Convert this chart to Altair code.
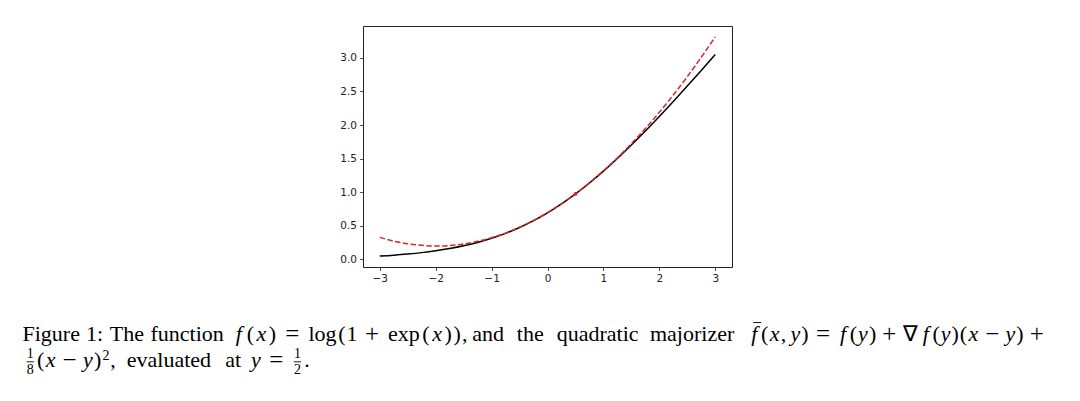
import altair as alt
import pandas as pd

# ---------------- data ----------------
x_grid = [-3.0, -2.75, -2.5, -2.25, -2.0, -1.75, -1.5, -1.25, -1.0, -0.75, -0.5, -0.25,
          0.0, 0.25, 0.5, 0.75, 1.0, 1.25, 1.5, 1.75, 2.0, 2.25, 2.5, 2.75, 3.0]
softplus = [0.049, 0.062, 0.079, 0.100, 0.127, 0.160, 0.201, 0.252, 0.313, 0.387, 0.474, 0.576,
            0.693, 0.826, 0.974, 1.137, 1.313, 1.502, 1.701, 1.910, 2.127, 2.350, 2.579, 2.812, 3.049]
majorizer = [0.327, 0.271, 0.232, 0.208, 0.199, 0.206, 0.229, 0.268, 0.322, 0.391, 0.477, 0.578,
             0.694, 0.826, 0.974, 1.138, 1.317, 1.511, 1.722, 1.948, 2.189, 2.446, 2.719, 3.008, 3.312]
tangent_x = [0.5]
tangent_y = [0.974]
x_ticks = [-3, -2, -1, 0, 1, 2, 3]
y_ticks = [0.0, 0.5, 1.0, 1.5, 2.0, 2.5, 3.0]

RED = "#d62728"
INK = "#222222"

df = pd.DataFrame({"x": x_grid, "f": softplus, "m": majorizer})
dot_df = pd.DataFrame({"x": tangent_x, "f": tangent_y})

xscale = alt.Scale(domain=[-3.3, 3.3], nice=False, zero=False)
yscale = alt.Scale(domain=[-0.114, 3.474], nice=False, zero=False)
axis_common = dict(grid=False, domain=False, ticks=True, tickSize=3.5, tickColor=INK,
                   tickWidth=0.8, labelFont="DejaVu Sans", labelFontSize=10.5,
                   labelColor=INK, labelPadding=3, title=None)
xaxis = alt.Axis(values=x_ticks, format="d", **axis_common)
yaxis = alt.Axis(values=y_ticks, format=".1f", **axis_common)

curve = alt.Chart(df).mark_line(color="black", strokeWidth=1.5, interpolate="monotone").encode(
    x=alt.X("x:Q", scale=xscale, axis=xaxis),
    y=alt.Y("f:Q", scale=yscale, axis=yaxis),
)
maj = alt.Chart(df).mark_line(color=RED, strokeWidth=1.5, strokeDash=[5.5, 2.4],
                              interpolate="monotone").encode(
    x=alt.X("x:Q", scale=xscale, axis=xaxis),
    y=alt.Y("m:Q", scale=yscale, axis=yaxis),
)
dot = alt.Chart(dot_df).mark_circle(color=RED, size=14, opacity=1).encode(
    x=alt.X("x:Q", scale=xscale, axis=xaxis),
    y=alt.Y("f:Q", scale=yscale, axis=yaxis),
)

# ---------------- caption (typeset like the LaTeX original) ----------------
CMR = {' ': 0.3333, 'F': 0.6528, 'T': 0.7222,
       'a': 0.5, 'b': 0.5556, 'c': 0.4444, 'd': 0.5556, 'e': 0.4444, 'f': 0.3056, 'g': 0.5,
       'h': 0.5556, 'i': 0.2778, 'j': 0.3056, 'k': 0.5278, 'l': 0.2778, 'm': 0.8333,
       'n': 0.5556, 'o': 0.5, 'p': 0.5556, 'q': 0.5278, 'r': 0.3917, 's': 0.3944,
       't': 0.3889, 'u': 0.5556, 'v': 0.5278, 'w': 0.7222, 'x': 0.5278, 'y': 0.5278,
       'z': 0.4444, '1': 0.5, '2': 0.5, '8': 0.5, ':': 0.2778, ',': 0.2778, '.': 0.2778,
       '(': 0.3889, ')': 0.3889, '+': 0.7778, '=': 0.7778, '\u2212': 0.7778, '\u2207': 0.8333}
CMMI = {'f': 0.5978, 'x': 0.5715, 'y': 0.5261}
OPERATORS = {'+', '=', '\u2212'}

EM = 20.0    # layout em (px)
R = 22.0     # rendered main font size
R_OP = 25.0  # rendered size of the wide TeX operators
S_R = 14.0   # script font size
thick, med, thin = 5 / 18, 4 / 18, 3 / 18

def r(s):
    return ("r", s)

def i(s):
    return ("i", s)

def g(em):
    return ("gap", em)

def frac(n, d):
    return ("frac", n, d)

def sup(s):
    return ("sup", s)

FBAR = ("fbar",)
X, Y, F = i("x"), i("y"), i("f")

line1 = [
    ("text", 23, 223, ["Figure", "1:", "The", "function"]),
    ("math", 232, 468, [F, r("("), X, r(")"), g(thick), r("="), g(thick), r("log"), r("("),
                        r("1"), g(med), r("+"), g(med), r("exp"), r("("), X, r(")"), r(")"),
                        r(",")]),
    ("text", 472, 733, ["and", "the", "quadratic", "majorizer"]),
    ("math", 748, 1045, [FBAR, r("("), X, r(","), g(thin), Y, r(")"), g(thick), r("="),
                         g(thick), F, r("("), Y, r(")"), g(med), r("+"), g(med), r("\u2207"),
                         F, r("("), Y, r(")"), r("("), X, g(med), r("\u2212"), g(med), Y,
                         r(")"), g(med), r("+")]),
]
line2 = [
    ("math", 24, 116, [frac("1", "8"), r("("), X, g(med), r("\u2212"), g(med), Y, r(")"),
                       sup("2"), r(",")]),
    ("text", 127, 242, ["evaluated", "at"]),
    ("math", 250, 310, [Y, g(thick), r("="), g(thick), frac("1", "2"), r(".")]),
]

texts, rules = [], []

def cmw(s, italic=False):
    tbl = CMMI if italic else CMR
    return sum(tbl[c] for c in s) * EM

def tok_w(t):
    k = t[0]
    if k == "r":
        return cmw(t[1])
    if k == "i":
        return cmw(t[1], True)
    if k == "fbar":
        return cmw("f", True)
    if k == "gap":
        return t[1] * EM
    if k == "frac":
        return 0.59 * EM
    if k == "sup":
        return 0.40 * EM
    return 0.0

def put(x, y, s, fs, italic):
    texts.append(dict(px=x, py=y, txt=s, fs=fs, it=int(italic)))

def lay_line(groups, base):
    for kind, x0, x1, toks in groups:
        if kind == "text":
            widths = [cmw(w) for w in toks]
            sp = (x1 - x0 - sum(widths)) / max(len(toks) - 1, 1)
            x = x0
            for w, wd in zip(toks, widths):
                put(x + wd / 2, base, w, R, False)
                x += wd + sp
        else:
            widths = [tok_w(t) for t in toks]
            k = (x1 - x0) / sum(widths)
            x = x0
            for t, wd in zip(toks, widths):
                w2 = wd * k
                c = x + w2 / 2
                kind_t = t[0]
                if kind_t == "r":
                    if t[1] in OPERATORS:
                        put(c, base + 0.8, t[1], R_OP, False)
                    else:
                        put(c, base, t[1], R, False)
                elif kind_t == "i":
                    put(c, base, t[1], R, True)
                elif kind_t == "fbar":
                    put(c, base, "f", R, True)
                    rules.append(dict(rx=c - 1.0, rx2=c + 7.0, ry=base - 18.5))
                elif kind_t == "frac":
                    put(c, base - 9.0, t[1], S_R, False)
                    put(c, base + 7.0, t[2], S_R, False)
                    rules.append(dict(rx=c - 3.6, rx2=c + 3.6, ry=base - 5.2))
                elif kind_t == "sup":
                    put(c, base - 7.5, t[1], S_R, False)
                x += w2

# plot area origin on the page is (363, 26)
OX, OY = 363, 26
lay_line(line1, 341)
lay_line(line2, 367)

text_df = pd.DataFrame(texts)
text_df["px"] -= OX
text_df["py"] -= OY
rule_df = pd.DataFrame(rules)
rule_df["rx"] -= OX
rule_df["rx2"] -= OX
rule_df["ry"] -= OY

def cap_layer(italic):
    return alt.Chart(text_df).transform_filter(
        "datum.it == %d" % (1 if italic else 0)
    ).mark_text(align="center", baseline="alphabetic", font="Liberation Serif",
                fontStyle="italic" if italic else "normal", color="black").encode(
        x=alt.X("px:Q", scale=None, axis=None),
        y=alt.Y("py:Q", scale=None, axis=None),
        text="txt:N",
        size=alt.Size("fs:Q", scale=None, legend=None),
    )

cap_rules = alt.Chart(rule_df).mark_rule(color="black", strokeWidth=0.9).encode(
    x=alt.X("rx:Q", scale=None, axis=None),
    x2="rx2:Q",
    y=alt.Y("ry:Q", scale=None, axis=None),
)

chart = alt.layer(curve, maj, dot, cap_layer(False), cap_layer(True), cap_rules).properties(
    width=369, height=241,
    autosize=alt.AutoSizeParams(type="none"),
    padding={"left": OX - 8, "top": OY - 8, "right": 1064 - (OX - 8) - 369, "bottom": 120},
    background="white",
).configure_view(stroke=INK, strokeWidth=1)

chart.save("out.html", embed_options={"renderer": "svg", "actions": False})
